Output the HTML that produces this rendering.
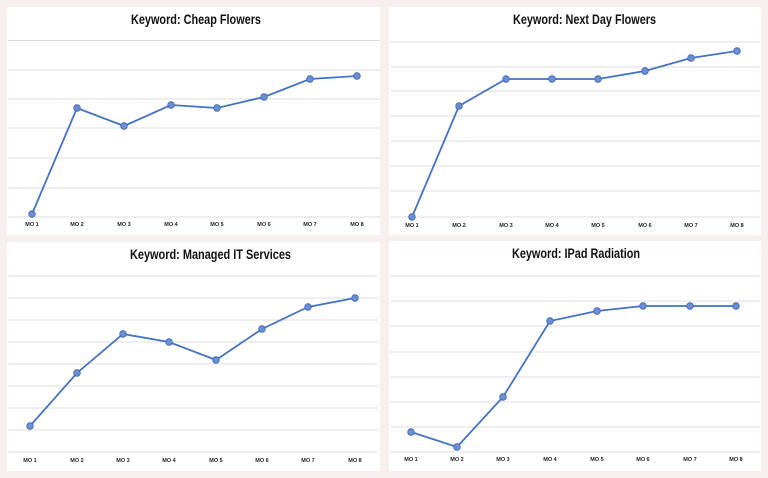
<!DOCTYPE html><html><head><style>body{margin:0;background:#f6efee}svg{display:block}text{font-family:"Liberation Sans",sans-serif}</style></head><body>
<svg width="768" height="478" viewBox="0 0 768 478">
<rect width="768" height="478" fill="#f6efee"/>
<g fill="#fff"><rect x="7" y="7" width="373" height="228"/><rect x="389" y="7" width="372" height="228"/><rect x="7" y="242" width="373" height="229"/><rect x="389" y="241" width="372" height="230"/></g>
<g stroke="#dcdcdc" stroke-width="1">
<path d="M8 40.5H380M8 70H380M8 99H380M8 128H380M8 158H380M8 188H380M8 217H380"/>
<path d="M390 42H760M390 67H760M390 91H760M390 116H760M390 141H760M390 166H760M390 191H760M390 217H760"/>
<path d="M8 276H378M8 298H378M8 320H378M8 342H378M8 364H378M8 386H378M8 408H378M8 430H378M8 452H378"/>
<path d="M390 276H760M390 301H760M390 326H760M390 352H760M390 377H760M390 402H760M390 427H760M390 452H760"/>
</g>
<g font-weight="bold" font-size="13.5" fill="#111" lengthAdjust="spacingAndGlyphs">
<text x="131" y="24" textLength="130" lengthAdjust="spacingAndGlyphs">Keyword: Cheap Flowers</text>
<text x="513" y="24" textLength="143" lengthAdjust="spacingAndGlyphs">Keyword: Next Day Flowers</text>
<text x="130" y="259" textLength="161" lengthAdjust="spacingAndGlyphs">Keyword: Managed IT Services</text>
<text x="512" y="258" textLength="128" lengthAdjust="spacingAndGlyphs">Keyword: IPad Radiation</text>
</g>
<g font-weight="bold" font-size="5.5" text-anchor="middle" fill="#222">
<text x="32" y="226">MO 1</text><text x="77" y="226">MO 2</text><text x="124" y="226">MO 3</text><text x="171" y="226">MO 4</text><text x="217" y="226">MO 5</text><text x="264" y="226">MO 6</text><text x="310" y="226">MO 7</text><text x="357" y="226">MO 8</text>
<text x="412" y="227">MO 1</text><text x="459" y="227">MO 2</text><text x="506" y="227">MO 3</text><text x="552" y="227">MO 4</text><text x="598" y="227">MO 5</text><text x="645" y="227">MO 6</text><text x="691" y="227">MO 7</text><text x="737" y="227">MO 8</text>
<text x="30" y="462">MO 1</text><text x="77" y="462">MO 2</text><text x="123" y="462">MO 3</text><text x="169" y="462">MO 4</text><text x="216" y="462">MO 5</text><text x="262" y="462">MO 6</text><text x="308" y="462">MO 7</text><text x="355" y="462">MO 8</text>
<text x="411" y="461">MO 1</text><text x="457" y="461">MO 2</text><text x="503" y="461">MO 3</text><text x="550" y="461">MO 4</text><text x="597" y="461">MO 5</text><text x="643" y="461">MO 6</text><text x="690" y="461">MO 7</text><text x="736" y="461">MO 8</text>
</g>
<g fill="none" stroke="#4472c4" stroke-width="1.8">
<polyline points="32,214 77,108 124,126 171,105 217,108 264,97 310,79 357,76"/>
<polyline points="412,217 459,106 506,79 552,79 598,79 645,71 691,58 737,51"/>
<polyline points="30,426 77,373 123,334 169,342 216,360 262,329 308,307 355,298"/>
<polyline points="411,432 457,447 503,397 550,321 597,311 643,306 690,306 736,306"/>
</g>
<g fill="#6b8fd4" stroke="#3a63b0" stroke-width="0.8">
<circle cx="32" cy="214" r="3.3"/><circle cx="77" cy="108" r="3.3"/><circle cx="124" cy="126" r="3.3"/><circle cx="171" cy="105" r="3.3"/><circle cx="217" cy="108" r="3.3"/><circle cx="264" cy="97" r="3.3"/><circle cx="310" cy="79" r="3.3"/><circle cx="357" cy="76" r="3.3"/>
<circle cx="412" cy="217" r="3.3"/><circle cx="459" cy="106" r="3.3"/><circle cx="506" cy="79" r="3.3"/><circle cx="552" cy="79" r="3.3"/><circle cx="598" cy="79" r="3.3"/><circle cx="645" cy="71" r="3.3"/><circle cx="691" cy="58" r="3.3"/><circle cx="737" cy="51" r="3.3"/>
<circle cx="30" cy="426" r="3.3"/><circle cx="77" cy="373" r="3.3"/><circle cx="123" cy="334" r="3.3"/><circle cx="169" cy="342" r="3.3"/><circle cx="216" cy="360" r="3.3"/><circle cx="262" cy="329" r="3.3"/><circle cx="308" cy="307" r="3.3"/><circle cx="355" cy="298" r="3.3"/>
<circle cx="411" cy="432" r="3.3"/><circle cx="457" cy="447" r="3.3"/><circle cx="503" cy="397" r="3.3"/><circle cx="550" cy="321" r="3.3"/><circle cx="597" cy="311" r="3.3"/><circle cx="643" cy="306" r="3.3"/><circle cx="690" cy="306" r="3.3"/><circle cx="736" cy="306" r="3.3"/>
</g>
</svg></body></html>
